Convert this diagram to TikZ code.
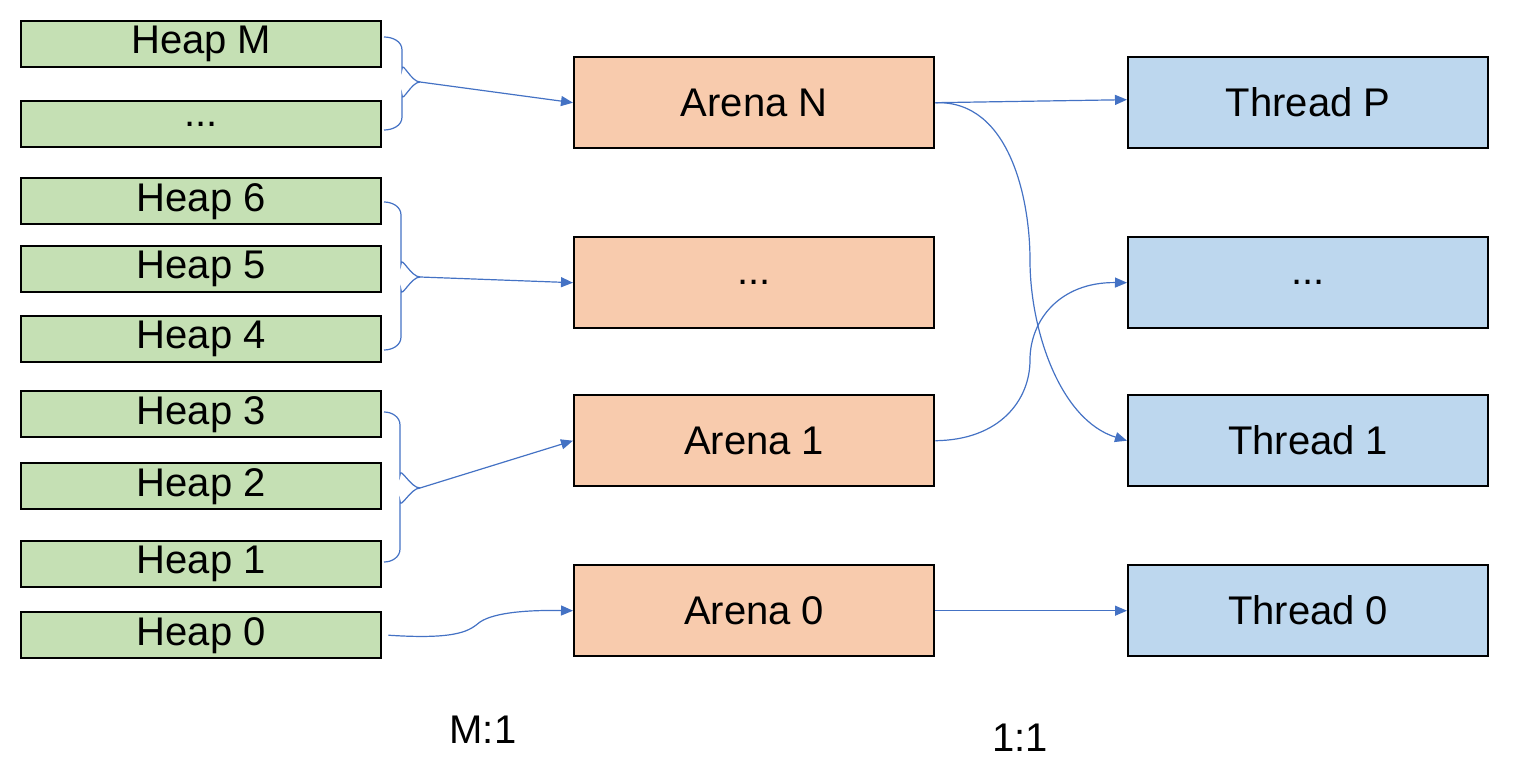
\documentclass[tikz,border=0pt]{standalone}
\usepackage{fontspec}
\setmainfont{Liberation Sans}
\usetikzlibrary{arrows.meta}
\definecolor{hg}{HTML}{C5E0B4}
\definecolor{ao}{HTML}{F8CBAD}
\definecolor{tb}{HTML}{BDD7EE}
\definecolor{ln}{HTML}{4472C4}
\begin{document}
\begin{tikzpicture}[x=0.5pt,y=-0.5pt,
  box/.style={draw=black,line width=1.2pt,anchor=north west,inner sep=0pt,font=\fontsize{20}{24}\selectfont},
  heap/.style={box,fill=hg,minimum width=180pt,minimum height=23pt},
  arena/.style={box,fill=ao,minimum width=180pt,minimum height=45.5pt},
  thr/.style={box,fill=tb,minimum width=180pt,minimum height=45.5pt},
  con/.style={draw=ln,line width=0.6pt,-{Triangle[length=6pt,width=5pt]}},
  brk/.style={draw=ln,line width=0.6pt}]
\useasboundingbox (0,0) rectangle (1528,775);
\node[heap] (hM) at (20,20) {Heap M};
\node[heap] (hd) at (20,100) {...};
\node[heap] (h6) at (20,177) {Heap 6};
\node[heap] (h5) at (20,245) {Heap 5};
\node[heap] (h4) at (20,315) {Heap 4};
\node[heap] (h3) at (20,390) {Heap 3};
\node[heap] (h2) at (20,462) {Heap 2};
\node[heap] (h1) at (20,540) {Heap 1};
\node[heap] (h0) at (20,611) {Heap 0};
\node[arena] (aN) at (573,56) {Arena N};
\node[arena] (ad) at (573,236) {...};
\node[arena] (a1) at (573,394) {Arena 1};
\node[arena] (a0) at (573,564) {Arena 0};
\node[thr] (tP) at (1127,56) {Thread P};
\node[thr] (td) at (1127,236) {...};
\node[thr] (t1) at (1127,394) {Thread 1};
\node[thr] (t0) at (1127,564) {Thread 0};
% braces
\coordinate (bA) at (420,82);
\coordinate (bB) at (420,277);
\coordinate (bC) at (420,488);
\draw[brk] (384,37) to[out=0,in=90] (402,50) -- (402,69) to[out=90,in=180] (bA);
\draw[brk] (384,130) to[out=0,in=-90] (402,117) -- (402,95) to[out=-90,in=180] (bA);
\draw[brk] (384,202) to[out=0,in=90] (401,215) -- (401,264) to[out=90,in=180] (bB);
\draw[brk] (384,350) to[out=0,in=-90] (401,337) -- (401,290) to[out=-90,in=180] (bB);
\draw[brk] (384,412) to[out=0,in=90] (400,425) -- (400,475) to[out=90,in=180] (bC);
\draw[brk] (384,562) to[out=0,in=-90] (400,549) -- (400,501) to[out=-90,in=180] (bC);
\draw[con] (bA) -- (aN.west);
\draw[con] (bB) -- (ad.west);
\draw[con] (bC) -- (a1.west);
\draw[con] ([xshift=3pt]h0.east) .. controls (460,640) and (470,630) .. (480,622) .. controls (495,612) and (530,610) .. (a0.west);
\draw[con] (aN.east) -- ([yshift=1.5pt]tP.west);
\draw[con] (aN.east) .. controls (1010,100) and (1030,200) .. (1030,260) .. controls (1030,330) and (1060,420) .. (t1.west);
\draw[con] (a1.east) .. controls (1000,440) and (1030,400) .. (1030,360) .. controls (1030,320) and (1060,282) .. (td.west);
\draw[con] (a0.east) -- (t0.west);
\node[font=\fontsize{20}{24}\selectfont] (m1) at (483,730) {M:1};
\node[font=\fontsize{20}{24}\selectfont] (o1) at (1020,738) {1:1};
\end{tikzpicture}
\end{document}
